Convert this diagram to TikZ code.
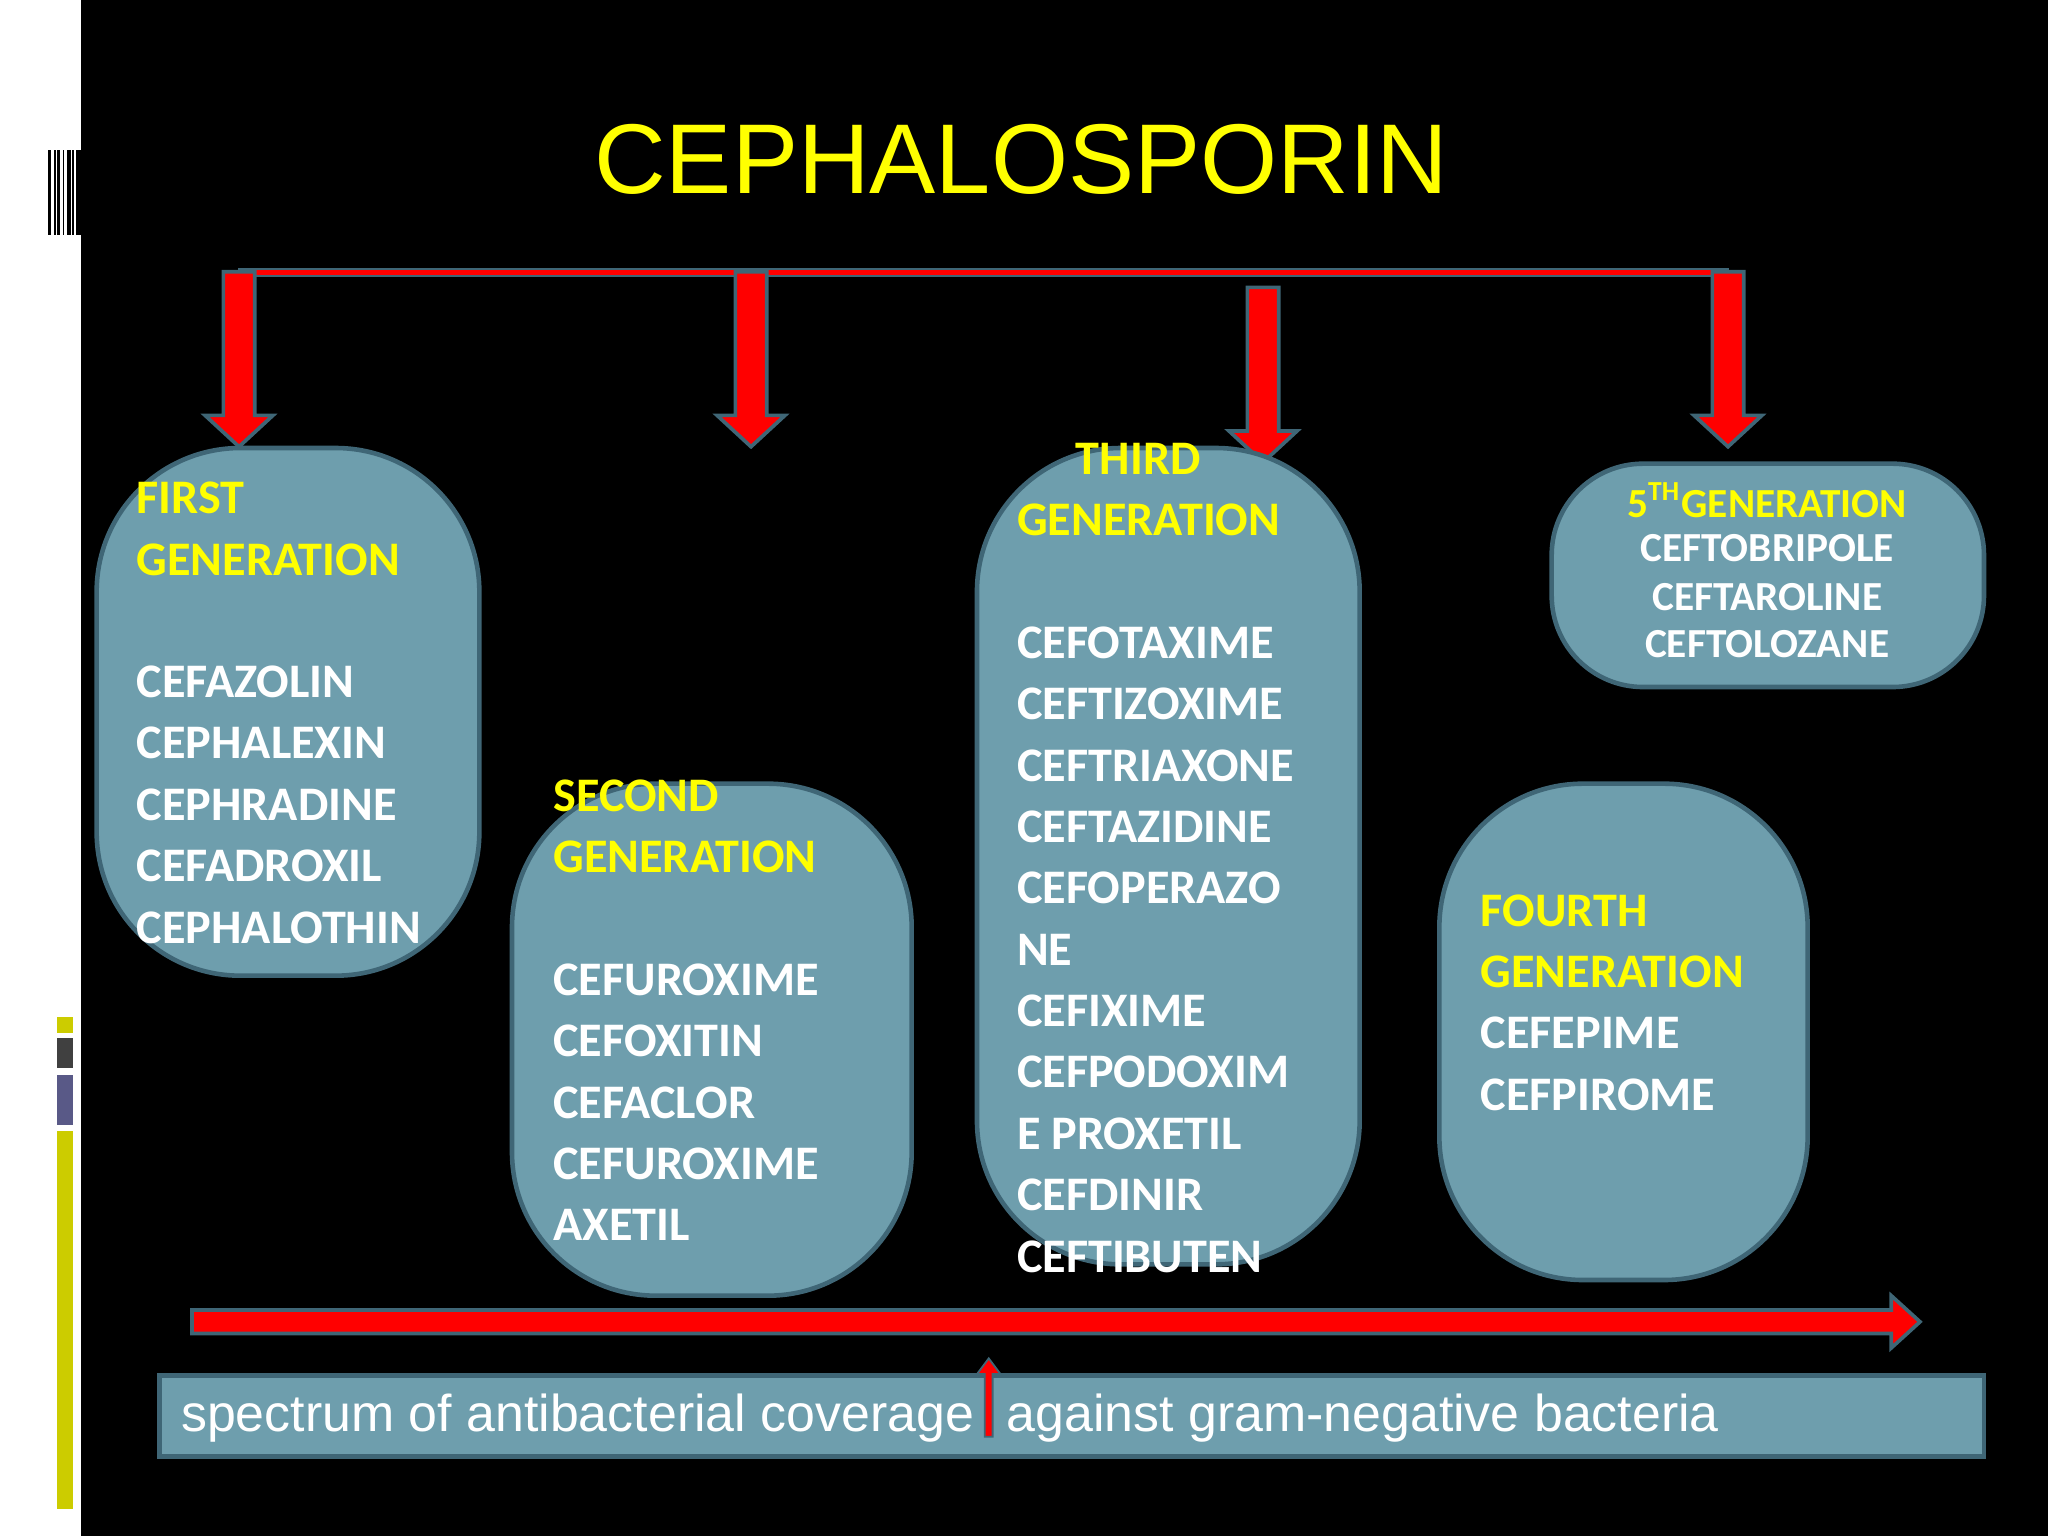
\documentclass[tikz,border=0pt]{standalone}
\usepackage{fontspec}
\setmainfont{Carlito}
\newfontfamily\arialf{Liberation Sans}
\usetikzlibrary{shapes.arrows}
\definecolor{boxfill}{HTML}{6E9EAD}
\definecolor{boxline}{HTML}{3F6676}
\definecolor{ttl}{HTML}{FFFF00}
\definecolor{arrred}{HTML}{FF0000}
\tikzset{
 genbox/.style={draw=boxline,line width=1pt,fill=boxfill,rounded corners=11mm},
 ln/.style={anchor=west,inner sep=0pt,font=\fontsize{10.5}{12}\selectfont\bfseries,text=white},
 hd/.style={ln,text=ttl},
 sm/.style={inner sep=0pt,font=\fontsize{9}{11}\selectfont\bfseries,text=white},
 redarr/.style={fill=arrred,draw=boxline,line width=0.8pt},
}
\begin{document}
\begin{tikzpicture}[x=0.1mm,y=-0.1mm]
\useasboundingbox (0,0) rectangle (1568,1176);
\fill[white] (0,0) rectangle (62,1176);
\fill[black] (62,0) rectangle (1568,1176);
% left decorations
\foreach \x/\w in {37/2,41/1.5,44/2,48/1,51/3,55/1.5,58/4}{\fill[black] (\x,115) rectangle ++(\w,65);}
\fill[ttl!80!black] (44,779) rectangle (56,791);
\fill[black!75] (44,795) rectangle (56,818);
\fill[black!40!blue!30!gray] (44,823) rectangle (56,861);
\fill[ttl!80!black] (44,866) rectangle (56,1155);
% title
\node (title) at (782,122) {\arialf\fontsize{21.6}{24}\selectfont\color{ttl}CEPHALOSPORIN};
% top line
\draw[redarr,line width=0.4pt] (183,206) rectangle (1323,211);
\coordinate (bar) at (183,208);
% down arrows
\foreach \n/\x/\t/\p in {a1/183/208/342,a2/575/208/342,a3/967/220/354,a4/1323/208/342}{
 \draw[redarr] (\x-12,\t) -- (\x+12,\t) -- (\x+12,\p-24) -- (\x+26,\p-24) -- (\x,\p) -- (\x-26,\p-24) -- (\x-12,\p-24) -- cycle;
 \coordinate (\n) at (\x,\p);
}
% boxes
\draw[genbox] (74,343) rectangle (367,747);
\draw[genbox] (392,600) rectangle (698,992);
\draw[genbox] (748,343) rectangle (1041,968);
\draw[genbox] (1102,600) rectangle (1384,980);
\draw[genbox,rounded corners=7mm] (1188,355) rectangle (1519,526);
% first
\node[hd] (f1) at (104,381) {FIRST};
\node[hd] (f2) at (104,429) {GENERATION};
\foreach \t [count=\i] in {CEFAZOLIN,CEPHALEXIN,CEPHRADINE,CEFADROXIL,CEPHALOTHIN}
 \node[ln] (fl\i) at (104,475+47*\i) {\t};
% second
\node[hd] (s1) at (423,609) {SECOND};
\node[hd] (s2) at (423,656) {GENERATION};
\foreach \t [count=\i] in {CEFUROXIME,CEFOXITIN,CEFACLOR,CEFUROXIME,AXETIL}
 \node[ln] (sl\i) at (423,703+47*\i) {\t};
% third
\node[hd] (t1) at (823,351) {THIRD};
\node[hd] (t2) at (778,398) {GENERATION};
\foreach \t [count=\i] in {CEFOTAXIME,CEFTIZOXIME,CEFTRIAXONE,CEFTAZIDINE,CEFOPERAZO,NE,CEFIXIME,CEFPODOXIM,E PROXETIL,CEFDINIR,CEFTIBUTEN}
 \node[ln] (tl\i) at (778,445+47*\i) {\t};
% fourth
\node[hd] (q1) at (1133,697) {FOURTH};
\node[hd] (q2) at (1133,744) {GENERATION};
\node[ln] (q3) at (1133,791) {CEFEPIME};
\node[ln] (q4) at (1133,838) {CEFPIROME};
% fifth
\node[sm,text=ttl] (v1) at (1353,383) {5\textsuperscript{TH}GENERATION};
\node[sm] (v2) at (1353,420) {CEFTOBRIPOLE};
\node[sm] (v3) at (1353,457) {CEFTAROLINE};
\node[sm] (v4) at (1353,493) {CEFTOLOZANE};
% bottom arrow
\draw[redarr] (147,1003) -- (1448,1003) -- (1448,992) -- (1470,1012) -- (1448,1032) -- (1448,1021) -- (147,1021) -- cycle;
% bottom box
\draw[fill=boxfill,draw=boxline,line width=1pt] (122,1053) rectangle (1519,1115);
\node[anchor=west,inner sep=0pt,text=white] (b1) at (138,1086) {\arialf\fontsize{11.3}{13}\selectfont spectrum of antibacterial coverage};
\node[anchor=west,inner sep=0pt,text=white] (b2) at (770,1086) {\arialf\fontsize{11.3}{13}\selectfont against gram-negative bacteria};
\draw[redarr,line width=0.4pt] (754,1100) -- (754,1052) -- (748,1052) -- (757,1040) -- (766,1052) -- (760,1052) -- (760,1100) -- cycle;
\end{tikzpicture}
\end{document}
